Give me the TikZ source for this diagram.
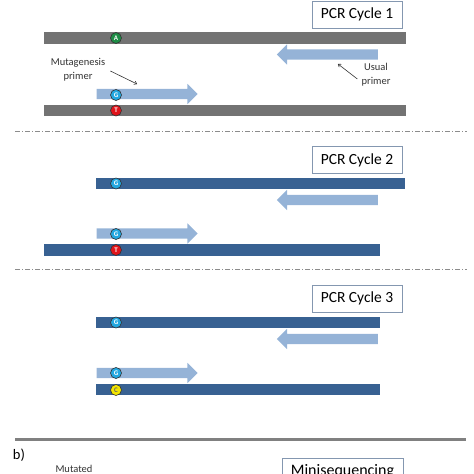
\documentclass[tikz,border=0pt]{standalone}
\usepackage{fontspec}
\setmainfont{Carlito}
\usetikzlibrary{shapes.arrows,arrows.meta}
\definecolor{templgray}{HTML}{737373}
\definecolor{strandblue}{HTML}{386192}
\definecolor{primerblue}{HTML}{95B3D7}
\definecolor{boxedge}{HTML}{8497B0}
\definecolor{baseA}{HTML}{1E8C45}
\definecolor{baseG}{HTML}{22A7E0}
\definecolor{baseT}{HTML}{E0141B}
\definecolor{baseC}{HTML}{F2E400}
\begin{document}
\begin{tikzpicture}[x=1pt,y=-1pt,
  cyclebox/.style={draw=boxedge,line width=0.8pt,fill=white,minimum width=90pt,minimum height=27pt,inner sep=0pt,font=\fontsize{15.5}{18}\selectfont},
  graystrand/.style={rectangle,fill=templgray,inner sep=0pt,minimum height=11.5pt},
  bluestrand/.style={rectangle,fill=strandblue,inner sep=0pt,minimum height=11.5pt},
  primer/.style={single arrow,fill=primerblue,inner sep=5pt,single arrow head extend=5pt,minimum height=101pt,outer sep=0pt},
  rprimer/.style={primer,shape border rotate=180},
  base/.style={circle,draw=black!80,line width=0.6pt,minimum size=11pt,inner sep=0pt,text=white,font=\fontsize{7}{7}\bfseries\selectfont},
  lbl/.style={align=center,inner sep=1pt,font=\fontsize{10.5}{14}\selectfont,text=black!80},
  pointer/.style={-{To[length=3pt,width=4pt]},black!80,line width=0.6pt},
  sepline/.style={draw=black!45,line width=0.9pt,dash pattern=on 5pt off 2pt on 1pt off 2pt}]
\clip (0,0) rectangle (474,474);
\useasboundingbox (0,0) rectangle (474,474);

% Cycle 1
\node[cyclebox] (cyc1) at (357,14.5) {PCR Cycle 1};
\node[graystrand,minimum width=362pt] (top1) at (225,38) {};
\node[graystrand,minimum width=362pt] (bot1) at (225,110.5) {};
\node[rprimer] (usu1) at (330,54.5) {};
\node[primer] (mut1) at (144.5,94) {};
\node[base,fill=baseA] (a1) at (116,38) {A};
\node[base,fill=baseG] (g1) at (116,95) {G};
\node[base,fill=baseT] (t1) at (116,110.5) {T};

% Primer labels
\node[lbl] (mutlbl) at (78,70) {Mutagenesis\\primer};
\node[lbl] (usulbl) at (376,75) {Usual\\primer};
\coordinate (mutptr) at (137,84);
\coordinate (usuptr) at (338,64);
\draw[pointer] ([xshift=4pt,yshift=-1pt]mutlbl.east) -- (mutptr);
\draw[pointer] ([xshift=-3pt,yshift=-4pt]usulbl.west) -- (usuptr);

\draw[sepline] (15,131) -- (467,131);

% Cycle 2
\node[cyclebox] (cyc2) at (357,160) {PCR Cycle 2};
\node[bluestrand,minimum width=309pt] (top2) at (250.5,183.5) {};
\node[bluestrand,minimum width=336pt] (bot2) at (212,250) {};
\node[rprimer] (usu2) at (330,200) {};
\node[primer] (mut2) at (144.5,233.5) {};
\node[base,fill=baseG] (g2a) at (116,183.5) {G};
\node[base,fill=baseG] (g2b) at (116,234) {G};
\node[base,fill=baseT] (t2) at (116,250) {T};

\draw[sepline] (15,269) -- (467,269);

% Cycle 3
\node[cyclebox] (cyc3) at (357,298.5) {PCR Cycle 3};
\node[bluestrand,minimum width=284pt] (top3) at (238,322.5) {};
\node[bluestrand,minimum width=284pt] (bot3) at (238,389.5) {};
\node[rprimer] (usu3) at (330,339) {};
\node[primer] (mut3) at (144.5,373) {};
\node[base,fill=baseG] (g3a) at (116,322.5) {G};
\node[base,fill=baseG] (g3b) at (116,373) {G};
\node[base,fill=baseC,text=black!60] (c3) at (116,390) {C};

% Part b
\draw[black!50,line width=3pt] (15,439) -- (466,439);
\node[font=\fontsize{14.5}{16}\selectfont,inner sep=0pt] (partb) at (19,455) {b)};
\node[lbl] (mutated) at (74,469) {Mutated};
\node[cyclebox,minimum width=121pt,font=\fontsize{16}{18}\selectfont] (miniseq) at (342.5,471.5) {Minisequencing};
\end{tikzpicture}
\end{document}
